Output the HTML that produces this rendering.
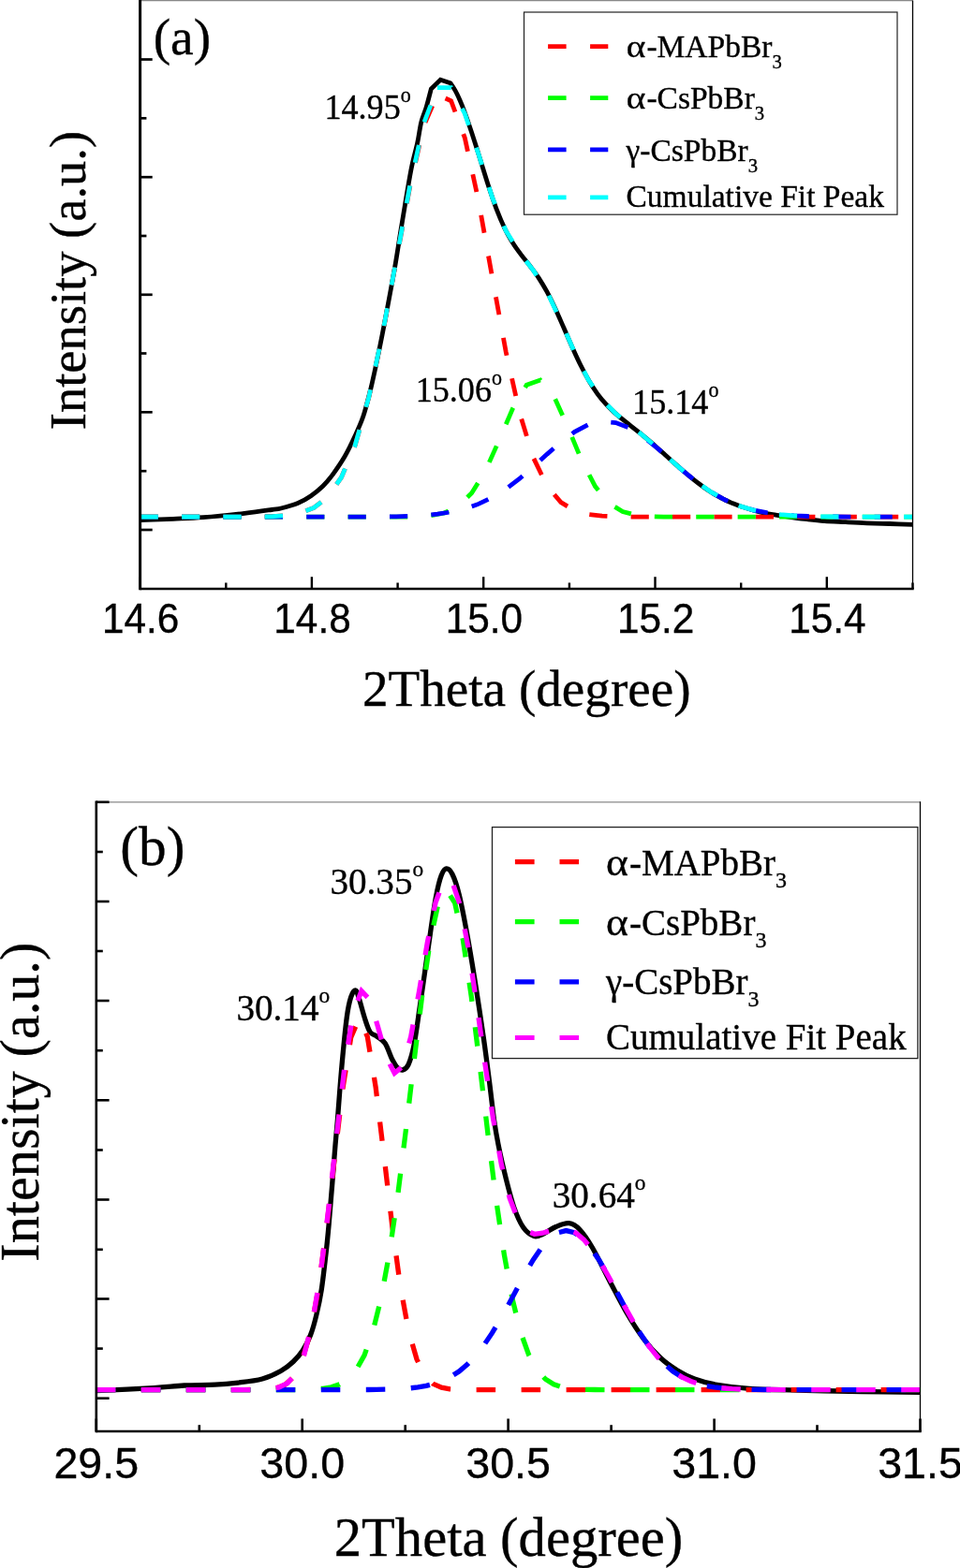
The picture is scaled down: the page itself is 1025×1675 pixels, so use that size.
<!DOCTYPE html>
<html lang="en"><head><meta charset="utf-8"><title>XRD peak fitting</title>
<style>html,body{margin:0;padding:0;background:#fff}svg{display:block}</style></head>
<body>
<svg width="1025" height="1675" viewBox="0 0 1025 1675">
<rect width="1025" height="1675" fill="#fff"/>
<g id="chart-a">
<path d="M149.6,555.6 C155.5,555.4 173.8,554.8 185.0,554.3 C196.2,553.8 204.3,553.7 217.0,552.7 C229.7,551.7 248.8,549.7 261.0,548.3 C273.2,546.9 283.5,545.4 290.0,544.5 C296.5,543.6 295.3,544.2 300.0,543.0 C304.7,541.8 312.7,539.7 318.0,537.5 C323.3,535.3 327.5,532.8 332.0,529.7 C336.5,526.6 341.1,522.9 345.0,519.0 C348.9,515.1 351.7,511.8 355.5,506.6 C359.3,501.4 364.1,494.5 368.0,487.8 C371.9,481.1 375.5,473.5 378.8,466.3 C382.1,459.1 385.1,452.7 387.8,444.8 C390.5,436.9 392.8,427.4 394.9,419.2 C397.0,410.9 398.5,403.7 400.3,395.5 C402.1,387.3 403.9,378.5 405.7,369.7 C407.5,361.0 409.2,352.1 411.0,342.7 C412.8,333.4 414.6,323.7 416.4,313.9 C418.2,304.1 419.8,295.7 421.8,284.2 C423.8,272.6 426.1,257.4 428.2,244.5 C430.3,231.6 432.6,217.8 434.5,206.5 C436.4,195.2 437.9,186.0 439.8,177.0 C441.7,168.0 444.0,160.3 445.7,152.5 C447.4,144.7 448.2,136.6 449.8,130.3 C451.4,124.1 453.2,120.9 455.0,115.0 C456.8,109.1 459.4,98.4 460.3,95.1 L470.3,85.2 L480.8,88.7 C481.7,90.0 484.3,93.6 486.0,96.6 C487.7,99.6 489.3,103.1 491.0,106.9 C492.7,110.7 494.0,114.0 496.0,119.5 C498.0,125.0 500.3,131.6 503.0,139.7 C505.7,147.8 509.0,158.4 512.0,168.0 C515.0,177.5 518.0,187.8 521.0,197.0 C524.0,206.2 527.0,215.2 530.0,223.1 C533.0,230.9 536.0,238.0 539.0,244.2 C542.0,250.4 545.0,255.5 548.0,260.3 C551.0,265.1 554.0,268.9 557.0,272.9 C560.0,276.9 563.0,280.3 566.0,284.2 C569.0,288.2 572.0,292.0 575.0,296.6 C578.0,301.2 581.0,306.2 584.0,311.7 C587.0,317.3 590.0,323.6 593.0,330.0 C596.0,336.4 599.0,343.5 602.0,350.3 C605.0,357.1 608.0,364.3 611.0,371.0 C614.0,377.6 617.0,384.3 620.0,390.3 C623.0,396.3 626.0,401.9 629.0,407.0 C632.0,412.1 635.0,416.6 638.0,420.8 C641.0,424.9 644.0,428.4 647.0,431.7 C650.0,435.0 653.0,437.9 656.0,440.6 C659.0,443.4 662.0,445.8 665.0,448.2 C668.0,450.7 671.0,452.9 674.0,455.3 C677.0,457.7 680.0,460.0 683.0,462.4 C686.0,464.9 689.0,467.3 692.0,469.9 C695.0,472.4 698.0,475.0 701.0,477.7 C704.0,480.3 707.0,483.1 710.0,485.8 C713.0,488.4 716.0,491.2 719.0,493.9 C722.0,496.6 725.0,499.2 728.0,501.8 C731.0,504.4 734.0,507.0 737.0,509.4 C740.0,511.9 743.0,514.3 746.0,516.5 C749.0,518.8 752.0,520.9 755.0,522.9 C758.0,524.9 761.0,526.8 764.0,528.6 C767.0,530.3 770.0,531.9 773.0,533.5 C776.0,535.0 779.0,536.3 782.0,537.6 C785.0,538.8 788.0,540.0 791.0,541.0 C794.0,542.0 796.5,542.7 800.0,543.7 C803.5,544.8 807.8,546.1 812.0,547.1 C816.2,548.1 819.9,548.9 825.0,549.7 C830.1,550.6 836.6,551.4 842.8,552.3 C849.0,553.1 855.7,554.0 862.0,554.7 C868.3,555.4 873.6,556.0 880.4,556.5 C887.2,557.0 895.5,557.3 903.0,557.7 C910.5,558.1 917.7,558.5 925.5,558.8 C933.3,559.1 941.8,559.3 950.0,559.5 C958.2,559.8 970.4,560.2 974.5,560.3" fill="none" stroke="#000" stroke-width="4.8" stroke-linejoin="miter"/>
<path d="M149.6,552.2 L159.3,552.2 L174.0,552.2 L188.6,552.2 L203.3,552.2 L217.9,552.2 L232.6,552.2 L247.2,552.2 L261.9,552.1 L276.5,552.0 L291.2,551.6 L305.9,550.6 L320.5,548.0 L335.1,542.4 L349.8,531.0 L364.4,510.1 L379.1,475.6 L393.8,424.5 L408.4,356.9 L423.1,278.2 L437.7,199.3 L452.4,134.4 L467.0,101.1" fill="none" stroke="#ff0000" stroke-width="4.8" stroke-dasharray="19.2 25.2"/>
<path d="M467.0,101.1 L481.6,107.7 L496.3,147.3 L510.9,214.4 L525.6,296.3 L540.2,375.9 L554.9,441.6 L569.5,489.0 L584.2,519.3 L598.9,536.6 L613.5,545.4 L628.1,549.5 L642.8,551.2 L657.5,551.9 L672.1,552.1 L686.8,552.2 L701.4,552.2 L716.0,552.2 L730.7,552.2 L745.4,552.2 L760.0,552.2 L774.7,552.2 L789.3,552.2 L804.0,552.2 L818.6,552.2 L833.2,552.2 L847.9,552.2 L862.5,552.2 L877.2,552.2 L891.9,552.2 L906.5,552.2 L921.2,552.2 L935.8,552.2 L950.5,552.2 L965.1,552.2 L974.5,552.2" fill="none" stroke="#ff0000" stroke-width="4.8" stroke-dasharray="19.2 25.2" stroke-dashoffset="35"/>
<path d="M149.6,552.2 L152.0,552.2 L166.7,552.2 L181.3,552.2 L196.0,552.2 L210.6,552.2 L225.3,552.2 L239.9,552.2 L254.6,552.2 L269.2,552.2 L283.9,552.2 L298.5,552.2 L313.2,552.2 L327.8,552.2 L342.5,552.2 L357.1,552.2 L371.8,552.2 L386.4,552.2 L401.1,552.2 L415.8,552.2 L430.4,552.1 L445.0,551.8 L459.7,550.8 L474.3,548.0 L489.0,541.0 L503.6,526.8 L518.3,502.9 L532.9,470.4 L547.6,436.1 L562.2,411.3 L576.9,406.1 L591.5,423.5 L606.2,456.1 L620.9,491.4 L635.5,519.6 L650.1,537.4 L664.8,546.5 L679.4,550.3 L694.1,551.7 L708.8,552.1 L723.4,552.2 L738.0,552.2 L752.7,552.2 L767.4,552.2 L782.0,552.2 L796.6,552.2 L811.3,552.2 L826.0,552.2 L840.6,552.2 L855.2,552.2 L869.9,552.2 L884.5,552.2 L899.2,552.2 L913.8,552.2 L928.5,552.2 L943.1,552.2 L957.8,552.2 L972.5,552.2 L974.5,552.2" fill="none" stroke="#00ff00" stroke-width="4.8" stroke-dasharray="19.2 25.2"/>
<path d="M149.6,552.2 L159.3,552.2 L174.0,552.2 L188.6,552.2 L203.3,552.2 L217.9,552.2 L232.6,552.2 L247.2,552.2 L261.9,552.2 L276.5,552.2 L291.2,552.2 L305.9,552.2 L320.5,552.2 L335.1,552.2 L349.8,552.2 L364.4,552.2 L379.1,552.2 L393.8,552.1 L408.4,552.0 L423.1,551.8 L437.7,551.3 L452.4,550.5 L467.0,549.2 L481.6,546.9 L496.3,543.5 L510.9,538.4 L525.6,531.4 L540.2,522.3 L554.9,511.2 L569.5,498.5 L584.2,485.1 L598.9,472.3 L613.5,461.4 L628.1,453.7 L642.8,450.3 L657.5,451.6 L672.1,457.2 L686.8,466.5 L701.4,478.3 L716.0,491.3 L730.7,504.2 L745.4,516.0 L760.0,526.1 L774.7,534.3 L789.3,540.4 L804.0,544.8 L818.6,547.7 L833.2,549.6 L847.9,550.8 L862.5,551.5 L877.2,551.8 L891.9,552.0 L906.5,552.1 L921.2,552.2 L935.8,552.2 L950.5,552.2 L965.1,552.2 L974.5,552.2" fill="none" stroke="#0000ff" stroke-width="4.8" stroke-dasharray="19.2 25.2"/>
<path d="M149.6,552.2 L159.3,552.2 L174.0,552.2 L188.6,552.2 L203.3,552.2 L217.9,552.2 L232.6,552.2 L247.2,552.2 L261.9,552.1 L276.5,552.0 L291.2,551.6 L305.9,550.6 L320.5,548.0 L335.1,542.4 L349.8,531.0 L364.4,510.1 L379.1,475.6 L393.8,424.4 L408.4,356.7 L423.1,277.7 L437.7,198.2 L452.4,132.0 L467.0,93.6" fill="none" stroke="#00ffff" stroke-width="4.8" stroke-dasharray="19.2 25.2"/>
<path d="M467.0,93.6 L481.6,93.6 L496.3,121.5 L510.9,164.6 L525.6,210.9 L540.2,246.7 L554.9,270.1 L569.5,288.9 L584.2,312.1 L598.9,343.1 L613.5,376.5 L628.1,405.6 L642.8,426.9 L657.5,441.9 L672.1,453.8 L686.8,465.5 L701.4,478.0 L716.0,491.2 L730.7,504.2 L745.4,516.0 L760.0,526.1 L774.7,534.3 L789.3,540.4 L804.0,544.8 L818.6,547.7 L833.2,549.6 L847.9,550.8 L862.5,551.5 L877.2,551.8 L891.9,552.0 L906.5,552.1 L921.2,552.2 L935.8,552.2 L950.5,552.2 L965.1,552.2 L974.5,552.2" fill="none" stroke="#00ffff" stroke-width="4.8" stroke-dasharray="19.2 25.2" stroke-dashoffset="4.5"/>
<path d="M149.6,0.6 H974.5" fill="none" stroke="#888" stroke-width="1.3"/>
<path d="M974.5,0.6 V629.0" fill="none" stroke="#000" stroke-width="1.3"/>
<path d="M149.6,0 V630.2" fill="none" stroke="#000" stroke-width="3"/>
<path d="M149.6,629.0 H975.7" fill="none" stroke="#000" stroke-width="2.4"/>
<path d="M149.6,63.5 h13.1" stroke="#000" stroke-width="2.7"/>
<path d="M149.6,189.2 h13.1" stroke="#000" stroke-width="2.7"/>
<path d="M149.6,314.8 h13.1" stroke="#000" stroke-width="2.7"/>
<path d="M149.6,440.3 h13.1" stroke="#000" stroke-width="2.7"/>
<path d="M149.6,566.0 h13.1" stroke="#000" stroke-width="2.7"/>
<path d="M149.6,126.3 h6.8" stroke="#000" stroke-width="2.7"/>
<path d="M149.6,252 h6.8" stroke="#000" stroke-width="2.7"/>
<path d="M149.6,377.5 h6.8" stroke="#000" stroke-width="2.7"/>
<path d="M149.6,503.2 h6.8" stroke="#000" stroke-width="2.7"/>
<path d="M149.6,629.0 v-12.8" stroke="#000" stroke-width="2.4"/>
<path d="M241.3,629.0 v-6.5" stroke="#000" stroke-width="2.4"/>
<path d="M332.9,629.0 v-12.8" stroke="#000" stroke-width="2.4"/>
<path d="M424.6,629.0 v-6.5" stroke="#000" stroke-width="2.4"/>
<path d="M516.2,629.0 v-12.8" stroke="#000" stroke-width="2.4"/>
<path d="M607.9,629.0 v-6.5" stroke="#000" stroke-width="2.4"/>
<path d="M699.5,629.0 v-12.8" stroke="#000" stroke-width="2.4"/>
<path d="M791.2,629.0 v-6.5" stroke="#000" stroke-width="2.4"/>
<path d="M882.8,629.0 v-12.8" stroke="#000" stroke-width="2.4"/>
<path d="M974.5,629.0 v-6.5" stroke="#000" stroke-width="2.4"/>
<text transform="translate(150.2,676.2) scale(1,1.04)" font-family="Liberation Sans, Arial, sans-serif" font-size="42.3" text-anchor="middle" stroke="#000" stroke-width="0.35">14.6</text>
<text transform="translate(333.5,676.2) scale(1,1.04)" font-family="Liberation Sans, Arial, sans-serif" font-size="42.3" text-anchor="middle" stroke="#000" stroke-width="0.35">14.8</text>
<text transform="translate(516.8,676.2) scale(1,1.04)" font-family="Liberation Sans, Arial, sans-serif" font-size="42.3" text-anchor="middle" stroke="#000" stroke-width="0.35">15.0</text>
<text transform="translate(700.1,676.2) scale(1,1.04)" font-family="Liberation Sans, Arial, sans-serif" font-size="42.3" text-anchor="middle" stroke="#000" stroke-width="0.35">15.2</text>
<text transform="translate(883.4,676.2) scale(1,1.04)" font-family="Liberation Sans, Arial, sans-serif" font-size="42.3" text-anchor="middle" stroke="#000" stroke-width="0.35">15.4</text>
<text x="562.3" y="753.7" font-family="Liberation Serif, Times New Roman, serif" font-size="55.2" text-anchor="middle" stroke="#000" stroke-width="0.35">2Theta (degree)</text>
<text transform="translate(91.4,299.6) rotate(-90)" font-family="Liberation Serif, Times New Roman, serif" font-size="54.5" text-anchor="middle" stroke="#000" stroke-width="0.35">Intensity (a.u.)</text>
<text x="163.7" y="58.3" font-family="Liberation Serif, Times New Roman, serif" font-size="55.3" stroke="#000" stroke-width="0.35">(a)</text>
<text transform="translate(346.4,126.6) scale(0.977,1)" font-family="Liberation Serif, Times New Roman, serif" font-size="37" stroke="#000" stroke-width="0.35">14.95<tspan dy="-17.7" font-size="22.5">o</tspan></text>
<text transform="translate(443.7,428.6) scale(0.977,1)" font-family="Liberation Serif, Times New Roman, serif" font-size="37" stroke="#000" stroke-width="0.35">15.06<tspan dy="-17.7" font-size="22.5">o</tspan></text>
<text transform="translate(675.1,441.8) scale(0.977,1)" font-family="Liberation Serif, Times New Roman, serif" font-size="37" stroke="#000" stroke-width="0.35">15.14<tspan dy="-17.7" font-size="22.5">o</tspan></text>
<rect x="559.5" y="13" width="398.5" height="216.2" fill="#fff" stroke="#222" stroke-width="1.2"/>
<path d="M585.1,49.6 h19.5 m25.5,0 h19.2" stroke="#ff0000" stroke-width="4.8" fill="none"/>
<text transform="translate(668.8,61.0) scale(1.17,1)" font-family="Liberation Serif, Times New Roman, serif" font-size="33.5" stroke="#000" stroke-width="0.35">α</text>
<text x="690.4" y="61.0" font-family="Liberation Serif, Times New Roman, serif" font-size="33.5" stroke="#000" stroke-width="0.35">-MAPbBr<tspan dy="12.2" font-size="20.7">3</tspan></text>
<path d="M585.1,104.6 h19.5 m25.5,0 h19.2" stroke="#00ff00" stroke-width="4.8" fill="none"/>
<text transform="translate(668.8,115.7) scale(1.17,1)" font-family="Liberation Serif, Times New Roman, serif" font-size="33.5" stroke="#000" stroke-width="0.35">α</text>
<text x="690.4" y="115.7" font-family="Liberation Serif, Times New Roman, serif" font-size="33.5" stroke="#000" stroke-width="0.35">-CsPbBr<tspan dy="12.2" font-size="20.7">3</tspan></text>
<path d="M585.1,159.8 h19.5 m25.5,0 h19.2" stroke="#0000ff" stroke-width="4.8" fill="none"/>
<text transform="translate(668.5,171.8) scale(1.0,1)" font-family="Liberation Serif, Times New Roman, serif" font-size="33.5" stroke="#000" stroke-width="0.35">γ</text>
<text x="683.3" y="171.8" font-family="Liberation Serif, Times New Roman, serif" font-size="33.5" stroke="#000" stroke-width="0.35">-CsPbBr<tspan dy="12.2" font-size="20.7">3</tspan></text>
<path d="M585.1,210.8 h19.5 m25.5,0 h19.2" stroke="#00ffff" stroke-width="4.8" fill="none"/>
<text x="668.5" y="221.3" font-family="Liberation Serif, Times New Roman, serif" font-size="33.5" stroke="#000" stroke-width="0.35">Cumulative Fit Peak</text>
</g>
<g id="chart-b">
<path d="M102.8,1485.7 C113.0,1485.2 148.2,1483.5 163.9,1482.6 C179.6,1481.6 185.8,1480.6 196.7,1480.0 C207.6,1479.4 219.9,1479.7 229.5,1479.2 C239.1,1478.7 245.6,1478.1 254.0,1477.1 C262.4,1476.1 272.4,1475.1 280.0,1473.0 C287.6,1470.9 294.4,1467.6 299.9,1464.5 C305.4,1461.4 309.3,1458.2 313.2,1454.5 C317.1,1450.8 320.2,1447.2 323.3,1442.5 C326.4,1437.8 329.2,1432.4 331.6,1426.0 C334.1,1419.6 336.1,1412.0 338.0,1404.0 C339.9,1396.0 341.5,1388.8 343.2,1378.0 C344.9,1367.2 346.6,1351.2 348.0,1339.2 C349.4,1327.2 350.2,1318.2 351.3,1306.0 C352.4,1293.8 353.5,1280.0 354.6,1266.2 C355.7,1252.4 357.0,1235.0 358.0,1223.1 C359.0,1211.2 359.7,1205.0 360.5,1195.0 C361.3,1185.0 362.0,1174.5 362.9,1163.4 C363.8,1152.3 364.7,1141.0 365.9,1128.3 C367.1,1115.6 368.8,1097.8 370.2,1087.3 C371.6,1076.8 373.0,1070.3 374.6,1065.4 C376.2,1060.5 378.1,1057.8 379.6,1058.0 C381.1,1058.2 381.8,1061.9 383.4,1066.8 C385.0,1071.7 387.4,1081.4 389.3,1087.3 C391.2,1093.2 392.9,1099.1 395.1,1102.4 C397.3,1105.7 399.7,1105.0 402.4,1107.0 C405.1,1109.0 408.5,1110.5 411.2,1114.5 C413.9,1118.5 416.3,1126.9 418.5,1131.2 C420.7,1135.5 422.4,1138.6 424.4,1140.6 C426.3,1142.5 428.2,1143.5 430.2,1142.9 C432.1,1142.3 434.1,1141.5 436.1,1137.1 C438.1,1132.7 440.1,1126.4 442.0,1116.6 C443.9,1106.8 445.9,1091.7 447.8,1078.5 C449.8,1065.3 451.8,1051.2 453.7,1037.6 C455.6,1023.9 457.6,1009.8 459.5,996.6 C461.4,983.4 463.4,968.8 465.4,958.5 C467.3,948.2 469.3,940.2 471.2,935.1 C473.1,930.0 474.6,928.0 476.5,927.8 C478.4,927.6 480.6,929.1 482.9,933.7 C485.2,938.3 487.5,944.6 490.2,955.6 C492.9,966.6 496.1,983.4 499.0,999.5 C501.9,1015.6 504.9,1033.7 507.8,1052.2 C510.7,1070.7 514.2,1093.6 516.6,1110.7 C519.0,1127.8 520.6,1140.4 522.4,1154.6 C524.2,1168.8 525.9,1184.6 527.5,1196.0 C529.1,1207.4 530.0,1212.5 532.1,1223.1 C534.2,1233.7 537.6,1248.5 540.4,1259.6 C543.2,1270.7 545.7,1280.9 548.7,1289.5 C551.7,1298.1 555.0,1305.8 558.6,1311.0 C562.2,1316.2 566.6,1319.3 570.2,1320.5 C573.8,1321.7 576.3,1319.7 580.2,1318.0 C584.1,1316.3 589.0,1312.4 593.5,1310.5 C598.0,1308.6 603.2,1306.2 607.5,1306.7 C611.8,1307.2 614.8,1309.1 619.0,1313.5 C623.2,1317.9 627.3,1323.9 632.6,1333.0 C637.9,1342.1 644.7,1356.5 650.7,1368.0 C656.8,1379.5 662.9,1391.7 668.9,1402.0 C674.9,1412.3 681.0,1421.9 687.0,1430.0 C693.0,1438.1 699.2,1444.8 705.2,1450.5 C711.2,1456.2 717.2,1460.2 723.3,1464.0 C729.3,1467.8 734.7,1470.5 741.5,1473.0 C748.3,1475.5 754.2,1477.3 764.0,1479.0 C773.8,1480.7 784.0,1482.2 800.0,1483.3 C816.0,1484.3 840.0,1484.8 860.0,1485.3 C880.0,1485.8 899.6,1486.2 920.0,1486.5 C940.4,1486.8 972.1,1487.2 982.5,1487.3" fill="none" stroke="#000" stroke-width="5.3" stroke-linejoin="round"/>
<path d="M102.8,1484.6 L111.0,1484.6 L119.8,1484.6 L128.6,1484.6 L137.4,1484.6 L146.2,1484.6 L155.0,1484.6 L163.8,1484.6 L172.5,1484.6 L181.3,1484.6 L190.1,1484.6 L198.9,1484.6 L207.7,1484.6 L216.5,1484.6 L225.3,1484.6 L234.1,1484.6 L242.9,1484.6 L251.7,1484.6 L260.4,1484.6 L269.2,1484.5 L278.0,1484.4 L286.8,1483.9 L295.6,1482.6 L304.4,1479.2 L313.2,1471.2 L322.0,1455.0 L330.8,1425.7 L339.6,1379.1 L348.3,1314.6 L357.1,1238.2 L365.9,1163.4 L374.7,1108.1 L383.5,1087.6 L392.3,1107.4 L401.1,1161.0 L409.9,1233.9 L418.7,1309.3 L427.4,1373.9 L436.2,1421.5 L445.0,1452.1 L453.8,1469.5 L462.6,1478.3 L471.4,1482.2 L480.2,1483.8 L489.0,1484.3 L497.8,1484.5 L506.6,1484.6 L515.4,1484.6 L524.1,1484.6 L532.9,1484.6 L541.7,1484.6 L550.5,1484.6 L559.3,1484.6 L568.1,1484.6 L576.9,1484.6 L585.7,1484.6 L594.5,1484.6 L603.2,1484.6 L612.0,1484.6 L620.8,1484.6 L629.6,1484.6 L638.4,1484.6 L647.2,1484.6 L656.0,1484.6 L664.8,1484.6 L673.6,1484.6 L682.4,1484.6 L691.1,1484.6 L699.9,1484.6 L708.7,1484.6 L717.5,1484.6 L726.3,1484.6 L735.1,1484.6 L743.9,1484.6 L752.7,1484.6 L761.5,1484.6 L770.3,1484.6 L779.0,1484.6 L787.8,1484.6 L796.6,1484.6 L805.4,1484.6 L814.2,1484.6 L823.0,1484.6 L831.8,1484.6 L840.6,1484.6 L849.4,1484.6 L858.2,1484.6 L866.9,1484.6 L875.7,1484.6 L884.5,1484.6 L893.3,1484.6 L902.1,1484.6 L910.9,1484.6 L919.7,1484.6 L928.5,1484.6 L937.3,1484.6 L946.1,1484.6 L954.8,1484.6 L963.6,1484.6 L972.4,1484.6 L981.2,1484.6 L982.5,1484.6" fill="none" stroke="#ff0000" stroke-width="5.3" stroke-dasharray="20.5 27.5"/>
<path d="M102.8,1484.6 L107.7,1484.6 L116.5,1484.6 L125.3,1484.6 L134.1,1484.6 L142.9,1484.6 L151.7,1484.6 L160.5,1484.6 L169.2,1484.6 L178.0,1484.6 L186.8,1484.6 L195.6,1484.6 L204.4,1484.6 L213.2,1484.6 L222.0,1484.6 L230.8,1484.6 L239.6,1484.6 L248.4,1484.6 L257.1,1484.6 L265.9,1484.6 L274.7,1484.6 L283.5,1484.6 L292.3,1484.6 L301.1,1484.6 L309.9,1484.6 L318.7,1484.5 L327.5,1484.4 L336.3,1484.0 L345.0,1483.3 L353.8,1481.8 L362.6,1478.8 L371.4,1473.3 L380.2,1463.6 L389.0,1447.8 L397.8,1423.4 L406.6,1388.2 L415.4,1340.6 L424.2,1280.8 L432.9,1211.0 L441.7,1136.6 L450.5,1064.9 L459.3,1004.8 L468.1,964.7 L476.9,950.6 L485.7,964.7 L494.5,1004.8 L503.3,1064.9 L512.1,1136.6 L520.9,1211.0 L529.6,1280.8 L538.4,1340.6 L547.2,1388.2 L556.0,1423.4 L564.8,1447.8 L573.6,1463.6 L582.4,1473.3 L591.2,1478.8 L600.0,1481.8 L608.8,1483.3 L617.5,1484.0 L626.3,1484.4 L635.1,1484.5 L643.9,1484.6 L652.7,1484.6 L661.5,1484.6 L670.3,1484.6 L679.1,1484.6 L687.9,1484.6 L696.6,1484.6 L705.4,1484.6 L714.2,1484.6 L723.0,1484.6 L731.8,1484.6 L740.6,1484.6 L749.4,1484.6 L758.2,1484.6 L767.0,1484.6 L775.8,1484.6 L784.5,1484.6 L793.3,1484.6 L802.1,1484.6 L810.9,1484.6 L819.7,1484.6 L828.5,1484.6 L837.3,1484.6 L846.1,1484.6 L854.9,1484.6 L863.7,1484.6 L872.4,1484.6 L881.2,1484.6 L890.0,1484.6 L898.8,1484.6 L907.6,1484.6 L916.4,1484.6 L925.2,1484.6 L934.0,1484.6 L942.8,1484.6 L951.6,1484.6 L960.3,1484.6 L969.1,1484.6 L977.9,1484.6 L982.5,1484.6" fill="none" stroke="#00ff00" stroke-width="5.3" stroke-dasharray="20.5 27.5"/>
<path d="M102.8,1484.6 L103.4,1484.6 L112.2,1484.6 L121.0,1484.6 L129.7,1484.6 L138.5,1484.6 L147.3,1484.6 L156.1,1484.6 L164.9,1484.6 L173.7,1484.6 L182.5,1484.6 L191.3,1484.6 L200.1,1484.6 L208.9,1484.6 L217.6,1484.6 L226.4,1484.6 L235.2,1484.6 L244.0,1484.6 L252.8,1484.6 L261.6,1484.6 L270.4,1484.6 L279.2,1484.6 L288.0,1484.6 L296.8,1484.6 L305.5,1484.6 L314.3,1484.6 L323.1,1484.6 L331.9,1484.6 L340.7,1484.6 L349.5,1484.6 L358.3,1484.6 L367.1,1484.6 L375.9,1484.6 L384.6,1484.5 L393.4,1484.5 L402.2,1484.4 L411.0,1484.2 L419.8,1484.0 L428.6,1483.6 L437.4,1482.9 L446.2,1481.9 L455.0,1480.4 L463.8,1478.1 L472.5,1475.0 L481.3,1470.7 L490.1,1465.0 L498.9,1457.6 L507.7,1448.3 L516.5,1437.2 L525.3,1424.2 L534.1,1409.5 L542.9,1393.7 L551.7,1377.3 L560.4,1361.1 L569.2,1346.0 L578.0,1333.1 L586.8,1323.1 L595.6,1316.8 L604.4,1314.6 L613.2,1316.8 L622.0,1323.1 L630.8,1333.1 L639.6,1346.0 L648.4,1361.1 L657.1,1377.3 L665.9,1393.7 L674.7,1409.5 L683.5,1424.2 L692.3,1437.2 L701.1,1448.3 L709.9,1457.6 L718.7,1465.0 L727.5,1470.7 L736.2,1475.0 L745.0,1478.1 L753.8,1480.4 L762.6,1481.9 L771.4,1482.9 L780.2,1483.6 L789.0,1484.0 L797.8,1484.2 L806.6,1484.4 L815.4,1484.5 L824.1,1484.5 L832.9,1484.6 L841.7,1484.6 L850.5,1484.6 L859.3,1484.6 L868.1,1484.6 L876.9,1484.6 L885.7,1484.6 L894.5,1484.6 L903.3,1484.6 L912.0,1484.6 L920.8,1484.6 L929.6,1484.6 L938.4,1484.6 L947.2,1484.6 L956.0,1484.6 L964.8,1484.6 L973.6,1484.6 L982.5,1484.6" fill="none" stroke="#0000ff" stroke-width="5.3" stroke-dasharray="20.5 27.5"/>
<path d="M102.8,1484.6 L104.7,1484.6 L113.5,1484.6 L122.3,1484.6 L131.1,1484.6 L139.9,1484.6 L148.7,1484.6 L157.5,1484.6 L166.3,1484.6 L175.0,1484.6 L183.8,1484.6 L192.6,1484.6 L201.4,1484.6 L210.2,1484.6 L219.0,1484.6 L227.8,1484.6 L236.6,1484.6 L245.4,1484.6 L254.2,1484.6 L262.9,1484.6 L271.7,1484.5 L280.5,1484.3 L289.3,1483.7 L298.1,1481.9 L306.9,1477.5 L315.7,1467.6 L324.5,1448.0 L333.3,1413.9 L342.1,1361.4 L350.8,1291.4 L359.6,1211.4 L368.4,1135.8 L377.2,1081.1 L386.0,1058.6 L394.8,1067.8 L403.6,1097.3 L412.4,1129.1 L421.2,1146.4 L429.9,1139.2 L438.7,1107.5 L447.5,1059.2 L456.3,1007.0 L465.1,964.0 L473.9,940.3 L482.7,941.5 L491.5,967.7 L500.3,1014.2 L509.1,1073.5 L517.9,1136.5 L526.6,1195.3 L535.4,1244.1 L544.2,1280.0 L553.0,1302.9 L561.8,1314.6 L570.6,1318.3 L579.4,1317.2 L588.2,1314.5 L597.0,1312.5 L605.8,1312.9 L614.5,1316.7 L623.3,1324.1 L632.1,1334.7 L640.9,1348.2 L649.7,1363.5 L658.5,1379.8 L667.3,1396.2 L676.1,1411.9 L684.9,1426.3 L693.6,1439.0 L702.4,1449.9 L711.2,1458.8 L720.0,1465.9 L728.8,1471.4 L737.6,1475.5 L746.4,1478.5 L755.2,1480.6 L764.0,1482.1 L772.8,1483.0 L781.5,1483.7 L790.3,1484.0 L799.1,1484.3 L807.9,1484.4 L816.7,1484.5 L825.5,1484.5 L834.3,1484.6 L843.1,1484.6 L851.9,1484.6 L860.7,1484.6 L869.4,1484.6 L878.2,1484.6 L887.0,1484.6 L895.8,1484.6 L904.6,1484.6 L913.4,1484.6 L922.2,1484.6 L931.0,1484.6 L939.8,1484.6 L948.6,1484.6 L957.3,1484.6 L966.1,1484.6 L974.9,1484.6 L982.5,1484.6" fill="none" stroke="#ff00ff" stroke-width="5.3" stroke-dasharray="20.5 27.5"/>
<path d="M102.8,856.8 H982.5" fill="none" stroke="#888" stroke-width="1.3"/>
<path d="M982.5,856.1999999999999 V1529.0" fill="none" stroke="#000" stroke-width="1.3"/>
<path d="M102.8,855.5 V1530.3" fill="none" stroke="#000" stroke-width="2.6"/>
<path d="M102.8,1529.0 H983.8" fill="none" stroke="#000" stroke-width="2.6"/>
<path d="M102.8,856.8 h13.8" stroke="#000" stroke-width="2.6"/>
<path d="M102.8,963 h13.8" stroke="#000" stroke-width="2.6"/>
<path d="M102.8,1069 h13.8" stroke="#000" stroke-width="2.6"/>
<path d="M102.8,1175.3 h13.8" stroke="#000" stroke-width="2.6"/>
<path d="M102.8,1281.5 h13.8" stroke="#000" stroke-width="2.6"/>
<path d="M102.8,1387.5 h13.8" stroke="#000" stroke-width="2.6"/>
<path d="M102.8,1493.7 h13.8" stroke="#000" stroke-width="2.6"/>
<path d="M102.8,910 h7" stroke="#000" stroke-width="2.6"/>
<path d="M102.8,1016 h7" stroke="#000" stroke-width="2.6"/>
<path d="M102.8,1122.2 h7" stroke="#000" stroke-width="2.6"/>
<path d="M102.8,1228.5 h7" stroke="#000" stroke-width="2.6"/>
<path d="M102.8,1334.8 h7" stroke="#000" stroke-width="2.6"/>
<path d="M102.8,1440.6 h7" stroke="#000" stroke-width="2.6"/>
<path d="M102.8,1529.0 v-13.5" stroke="#000" stroke-width="2.6"/>
<path d="M212.8,1529.0 v-6.8" stroke="#000" stroke-width="2.6"/>
<path d="M322.7,1529.0 v-13.5" stroke="#000" stroke-width="2.6"/>
<path d="M432.7,1529.0 v-6.8" stroke="#000" stroke-width="2.6"/>
<path d="M542.6,1529.0 v-13.5" stroke="#000" stroke-width="2.6"/>
<path d="M652.6,1529.0 v-6.8" stroke="#000" stroke-width="2.6"/>
<path d="M762.6,1529.0 v-13.5" stroke="#000" stroke-width="2.6"/>
<path d="M872.5,1529.0 v-6.8" stroke="#000" stroke-width="2.6"/>
<path d="M982.5,1529.0 v-13.5" stroke="#000" stroke-width="2.6"/>
<text transform="translate(102.8,1579.4) scale(1,1.0)" font-family="Liberation Sans, Arial, sans-serif" font-size="46.6" text-anchor="middle" stroke="#000" stroke-width="0.35">29.5</text>
<text transform="translate(322.7,1579.4) scale(1,1.0)" font-family="Liberation Sans, Arial, sans-serif" font-size="46.6" text-anchor="middle" stroke="#000" stroke-width="0.35">30.0</text>
<text transform="translate(542.6,1579.4) scale(1,1.0)" font-family="Liberation Sans, Arial, sans-serif" font-size="46.6" text-anchor="middle" stroke="#000" stroke-width="0.35">30.5</text>
<text transform="translate(762.6,1579.4) scale(1,1.0)" font-family="Liberation Sans, Arial, sans-serif" font-size="46.6" text-anchor="middle" stroke="#000" stroke-width="0.35">31.0</text>
<text transform="translate(982.5,1579.4) scale(1,1.0)" font-family="Liberation Sans, Arial, sans-serif" font-size="46.6" text-anchor="middle" stroke="#000" stroke-width="0.35">31.5</text>
<text x="543" y="1662.3" font-family="Liberation Serif, Times New Roman, serif" font-size="58.6" text-anchor="middle" stroke="#000" stroke-width="0.35">2Theta (degree)</text>
<text transform="translate(40.6,1177.2) rotate(-90)" font-family="Liberation Serif, Times New Roman, serif" font-size="58.2" text-anchor="middle" stroke="#000" stroke-width="0.35">Intensity (a.u.)</text>
<text x="128.3" y="923.7" font-family="Liberation Serif, Times New Roman, serif" font-size="59.3" stroke="#000" stroke-width="0.35">(b)</text>
<text transform="translate(352.4,954.7) scale(0.972,1)" font-family="Liberation Serif, Times New Roman, serif" font-size="40.3" stroke="#000" stroke-width="0.35">30.35<tspan dy="-19" font-size="24">o</tspan></text>
<text transform="translate(252.4,1090.4) scale(0.972,1)" font-family="Liberation Serif, Times New Roman, serif" font-size="40.3" stroke="#000" stroke-width="0.35">30.14<tspan dy="-19" font-size="24">o</tspan></text>
<text transform="translate(589.7,1289.8) scale(0.972,1)" font-family="Liberation Serif, Times New Roman, serif" font-size="40.3" stroke="#000" stroke-width="0.35">30.64<tspan dy="-19" font-size="24">o</tspan></text>
<rect x="525.5" y="883.6" width="454.4" height="247" fill="#fff" stroke="#222" stroke-width="1.3"/>
<path d="M549.9,920.6 h20.7 m26.9,0 h20.6" stroke="#ff0000" stroke-width="5.2" fill="none"/>
<text transform="translate(647,935.2) scale(1.17,1)" font-family="Liberation Serif, Times New Roman, serif" font-size="39" stroke="#000" stroke-width="0.35">α</text>
<text x="672.0" y="935.2" font-family="Liberation Serif, Times New Roman, serif" font-size="39" stroke="#000" stroke-width="0.35">-MAPbBr<tspan dy="12.6" font-size="24">3</tspan></text>
<path d="M549.9,984.7 h20.7 m26.9,0 h20.6" stroke="#00ff00" stroke-width="5.2" fill="none"/>
<text transform="translate(647,999.2) scale(1.17,1)" font-family="Liberation Serif, Times New Roman, serif" font-size="39" stroke="#000" stroke-width="0.35">α</text>
<text x="672.0" y="999.2" font-family="Liberation Serif, Times New Roman, serif" font-size="39" stroke="#000" stroke-width="0.35">-CsPbBr<tspan dy="12.6" font-size="24">3</tspan></text>
<path d="M549.9,1048.9 h20.7 m26.9,0 h20.6" stroke="#0000ff" stroke-width="5.2" fill="none"/>
<text transform="translate(647,1062.4) scale(1.0,1)" font-family="Liberation Serif, Times New Roman, serif" font-size="39" stroke="#000" stroke-width="0.35">γ</text>
<text x="664.2" y="1062.4" font-family="Liberation Serif, Times New Roman, serif" font-size="39" stroke="#000" stroke-width="0.35">-CsPbBr<tspan dy="12.6" font-size="24">3</tspan></text>
<path d="M549.9,1108.5 h20.7 m26.9,0 h20.6" stroke="#ff00ff" stroke-width="5.2" fill="none"/>
<text x="647" y="1121.0" font-family="Liberation Serif, Times New Roman, serif" font-size="39" stroke="#000" stroke-width="0.35">Cumulative Fit Peak</text>
</g>
</svg>
</body></html>
